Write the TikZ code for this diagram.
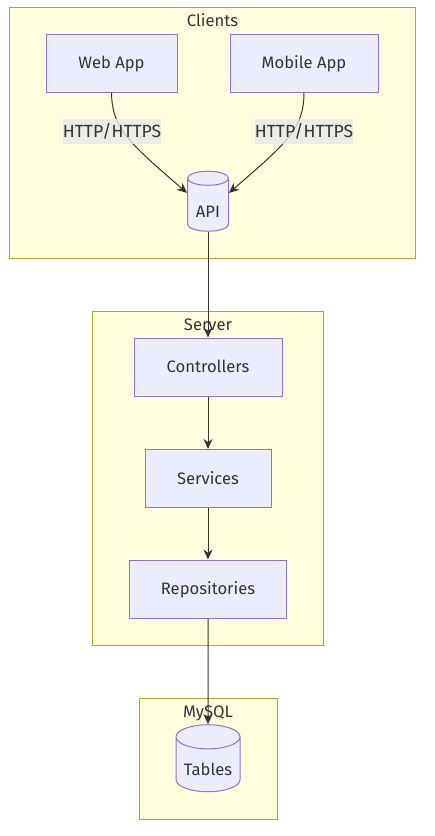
\documentclass[tikz,border=0pt]{standalone}
\usepackage{fontspec}
\setmainfont{Fira Sans}
\usepackage{tikz}
\usetikzlibrary{shapes.geometric,arrows.meta}
\definecolor{nodefill}{HTML}{ECECFF}
\definecolor{nodeline}{HTML}{9370DB}
\definecolor{groupfill}{HTML}{FFFFDE}
\definecolor{groupline}{HTML}{AAAA33}
\definecolor{textcol}{HTML}{333333}
\definecolor{labelfill}{HTML}{E8E8E8}
\tikzset{
    group/.style={rectangle,draw=groupline,fill=groupfill,line width=1pt},
    title/.style={text=textcol,text height=14pt,text depth=3pt,inner sep=0pt,font=\fontsize{16.6}{18}\selectfont},
    block/.style={rectangle,draw=nodeline,fill=nodefill,line width=1pt,text=textcol,text height=14pt,text depth=3pt,minimum height=58pt,font=\fontsize{16.6}{18}\selectfont},
    store/.style={cylinder,shape border rotate=90,draw=nodeline,fill=nodefill,line width=1pt,text=textcol,inner sep=0pt,font=\fontsize{16.6}{18}\selectfont},
    edgelabel/.style={rectangle,fill=labelfill,fill opacity=0.8,text opacity=1,text=textcol,inner sep=0pt,minimum width=98pt,minimum height=25pt,font=\fontsize{17.6}{19}\selectfont},
    link/.style={-{Stealth[length=10pt,width=9pt]},draw=textcol,line width=1pt}
}
\begin{document}
\begin{tikzpicture}[x=1pt, y=-1pt]
    \useasboundingbox (0,0) rectangle (435,836);

    % Groups
    \node[group,minimum width=406pt,minimum height=250.5pt] at (212.5,132.75) (clients) {};
    \node[group,minimum width=231.5pt,minimum height=334pt] at (208,478) (server) {};
    \node[group,minimum width=138pt,minimum height=121pt] at (208,759) (mysql) {};
    \node[title] at (212.5,21) (clientstitle) {Clients};
    \node[title] at (208,325) (servertitle) {Server};
    \node[title] at (208,712) (mysqltitle) {MySQL};

    % Clients
    \node[block,minimum width=131pt] at (111.5,63) (web) {Web App};
    \node[block,minimum width=148pt] at (304,63) (mobile) {Mobile App};
    \node[store,minimum width=41pt,minimum height=60pt,aspect=0.585] at (208,205) (api) {\raisebox{-12pt}[0pt][0pt]{API}};

    % Server
    \node[block,minimum width=148pt] at (208,367) (controllers) {Controllers};
    \node[block,minimum width=126pt] at (208,478.5) (services) {Services};
    \node[block,minimum width=157pt] at (208,589) (repositories) {Repositories};

    % MySQL
    \node[store,minimum width=64pt,minimum height=67pt,aspect=0.5] at (208,764.5) (tables) {\raisebox{-10.5pt}[0pt][0pt]{Tables}};

    % Links
    \draw[link] (web.south) .. controls (112,128) and (128,142) .. (api.150);
    \draw[link] (mobile.south) .. controls (304,128) and (288,142) .. (api.30);
    \draw[link] (api.south) -- (controllers.north);
    \draw[link] (controllers.south) -- (services.north);
    \draw[link] (services.south) -- (repositories.north);
    \draw[link] (repositories.south) -- (tables.north);

    % Link labels
    \node[edgelabel] at (112,131.5) (weblabel) {HTTP/HTTPS};
    \node[edgelabel] at (304,131.5) (mobilelabel) {HTTP/HTTPS};

\end{tikzpicture}
\end{document}
